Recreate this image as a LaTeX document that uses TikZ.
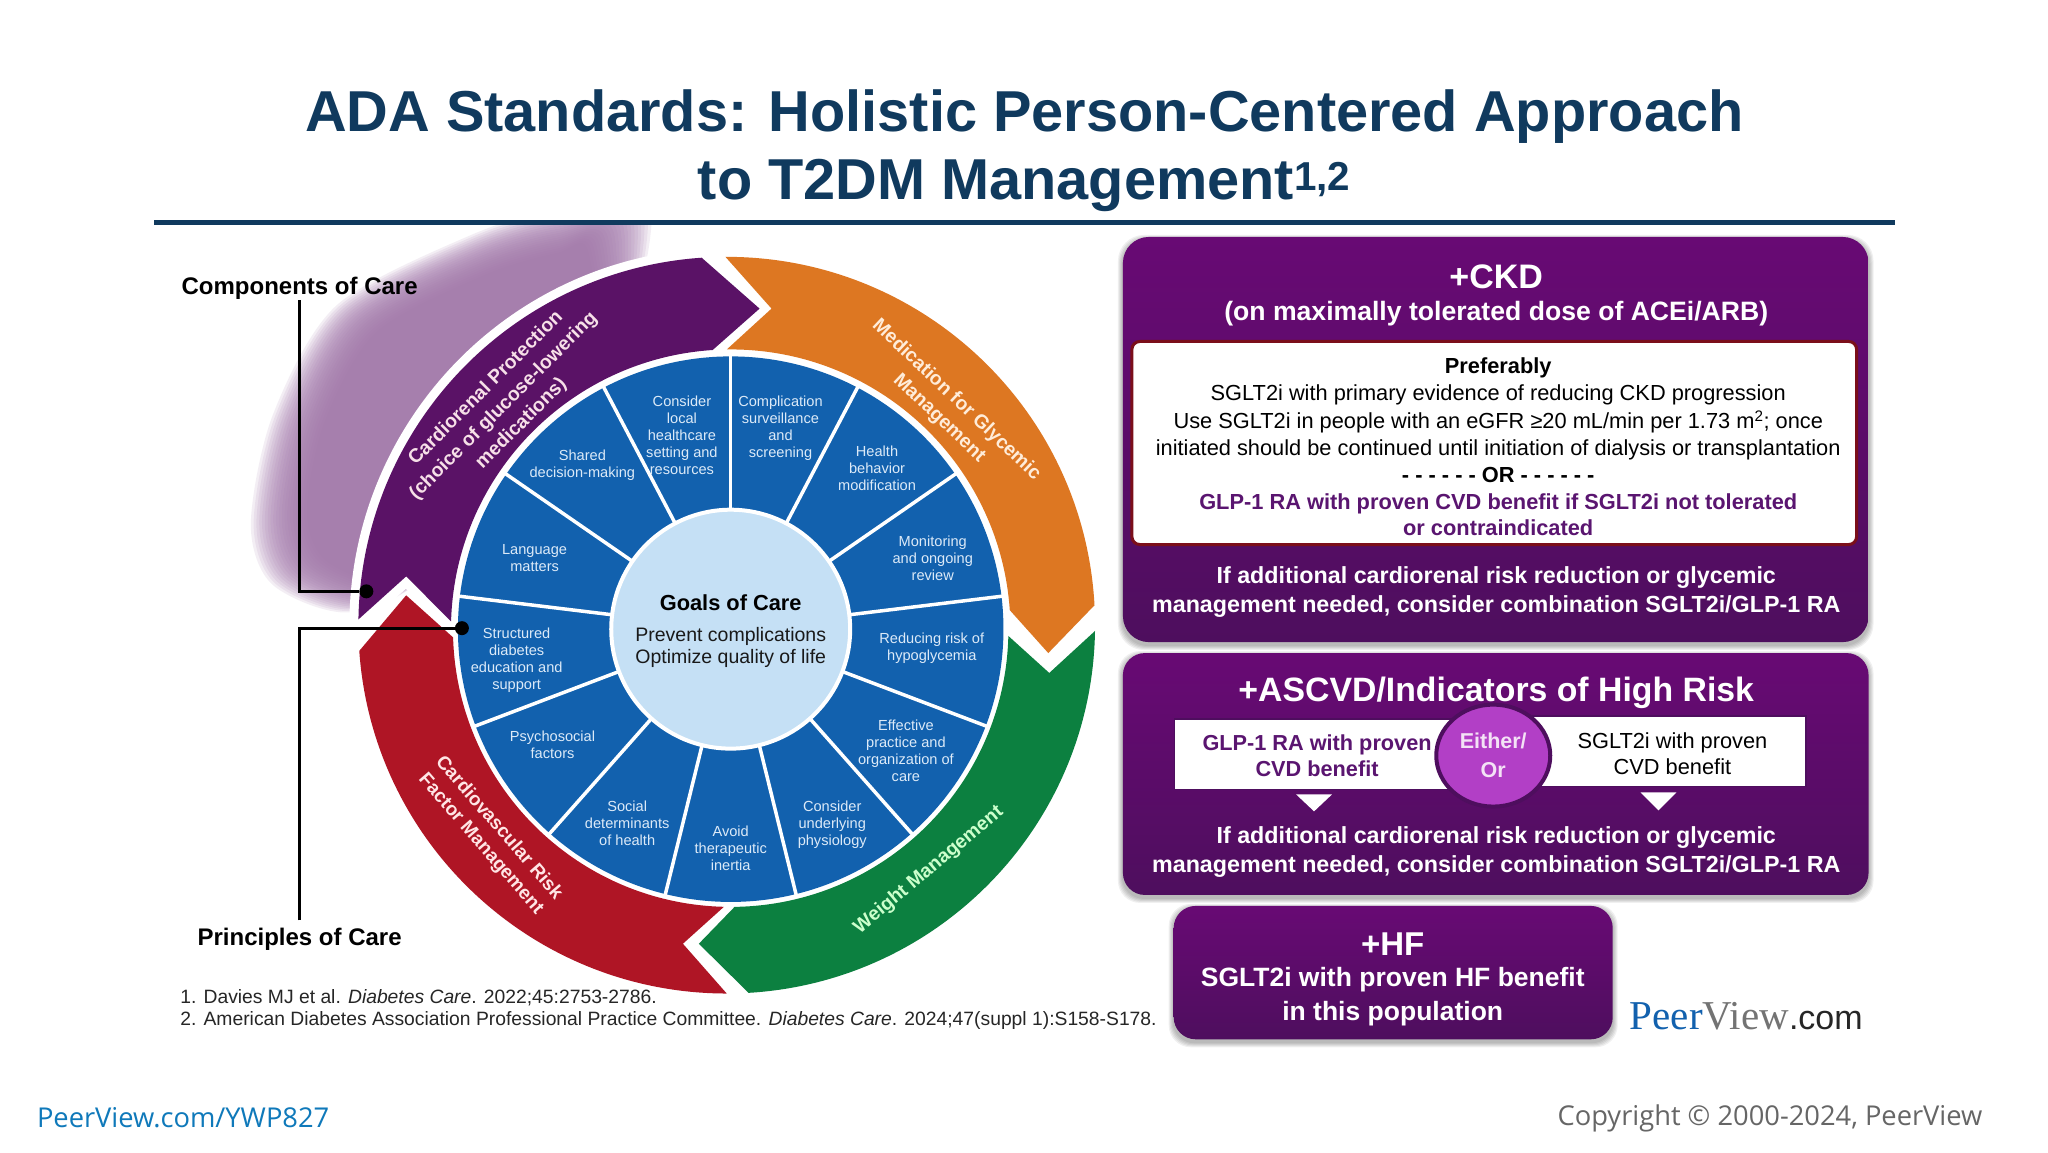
\documentclass[tikz,border=0pt]{standalone}
\usepackage{fontspec}
\setmainfont{Liberation Sans}
\newfontfamily\openf{Open Sans}
\newfontfamily\serifl{Liberation Serif}
\usetikzlibrary{calc,shapes.geometric}
\definecolor{navy}{HTML}{103A5E}
\definecolor{ppl}{HTML}{5A1266}
\definecolor{org}{HTML}{DD7722}
\definecolor{grn}{HTML}{0C8040}
\definecolor{rd}{HTML}{AF1525}
\definecolor{blu}{HTML}{1261AE}
\definecolor{pale}{HTML}{C5E0F5}
\definecolor{glow}{HTML}{A47AAB}
\definecolor{pantop}{HTML}{680A74}
\definecolor{panbot}{HTML}{4E0E5E}
\definecolor{lblu}{HTML}{DCEAF8}
\definecolor{txtp}{HTML}{5A1570}
\definecolor{lilac}{HTML}{B23FC6}
\newcommand{\fs}[2]{\fontsize{#1}{#2}\selectfont}
\newcommand{\softbox}[5]{%
  \foreach \i in {1,2,3,4,5} {\fill[black,opacity=.06,rounded corners=#5pt] (#1-\i,#2+3-\i) rectangle (#3+\i,#4+3+\i);}
  \shade[top color=pantop,bottom color=panbot,rounded corners=#5pt] (#1,#2) rectangle (#3,#4);}
\tikzset{
  seg/.style={font=\fs{14.6}{17}, text=lblu, align=center, inner sep=0pt},
  band/.style={font=\bfseries\fs{19.4}{25}, align=center, inner sep=0pt},
  lab/.style={font=\bfseries\fs{24}{28}, text=black, inner sep=0pt},
  wb/.style={font=\fs{21.8}{25}, text=black, inner sep=0pt},
  wbp/.style={font=\bfseries\fs{21.8}{25}, text=txtp, inner sep=0pt},
  pw/.style={font=\bfseries\fs{23.3}{28}, text=white, inner sep=0pt},
  ref/.style={font=\fs{19.3}{22}, text=black!85, inner sep=0pt, anchor=west},
  leader/.style={line width=3pt, black},
  dotn/.style={circle, fill=black, minimum size=14pt, inner sep=0pt},
}
\begin{document}
\begin{tikzpicture}[x=0.9955pt,y=-0.9955pt]
\useasboundingbox (0,0) rectangle (2057.26,1157.21);
\fill[white] (0,0) rectangle (2057.26,1157.21);
\coordinate (O) at (730,628);
\coordinate (C) at (734,632);
% glow
\begin{scope}
\clip (0,226) rectangle (1000,700);
\foreach \s in {0.90,0.91,...,1.101} {
  \fill[glow,opacity=.12,shift={(560,450)},scale=\s,shift={(-560,-450)}]
    plot[smooth cycle] coordinates {({620+(\s-1)*250},232) (560,232) (480,256) (358,320) (300,420) (280,520) (300,575) (370,600) (450,560) (600,400)};
}
\end{scope}
% title
\node[font=\bfseries\fs{57.7}{60},text=navy,inner sep=0pt] (t1) at (1029,117) {ADA Standards: Holistic Person-Centered Approach};
\node[font=\bfseries\fs{57.7}{60},text=navy,inner sep=0pt] (t2) at (1029,186) {to T2DM Management\textsuperscript{1,2}};
\fill[navy] (155,221) rectangle (1904,226);
% outer ring
\fill[ppl,preaction={draw=white,line width=18pt}] ($(O)+(180.9:370)$) arc[start angle=180.9,end angle=266.1,radius=370] -- (763,310) -- ($(C)+(266.3:281)$) arc[start angle=266.3,end angle=181.6,radius=281] -- (408,579) -- cycle;
\fill[org] ($(O)+(-90.2:370)$) arc[start angle=-90.2,end angle=-3.1,radius=370] -- (1053,656) -- ($(C)+(-3.9:281)$) arc[start angle=-3.9,end angle=-90.8,radius=281] -- (775,310) -- cycle;
\fill[grn] ($(O)+(0.9:370)$) arc[start angle=0.9,end angle=86.6,radius=370] -- (702,948) -- ($(C)+(89.2:279)$) arc[start angle=89.2,end angle=1.4,radius=279] -- (1054,676) -- cycle;
\fill[rd] ($(O)+(90:370)$) arc[start angle=90,end angle=176,radius=370] -- (408,598) -- ($(C)+(178.3:279)$) arc[start angle=178.3,end angle=91.4,radius=279] -- (686,948) -- cycle;
% blue ring
\fill[blu] (C) circle[radius=274];
\foreach \k in {0,...,12} {
  \pgfmathsetmacro{\a}{-90+\k*360/13}
  \draw[white,line width=3.5pt] ($(C)+(\a:118)$) -- ($(C)+(\a:276)$);
}
\fill[pale,draw=white,line width=4pt] (C) circle[radius=120];
% goals
\node[font=\bfseries\fs{21.8}{25},text=black,inner sep=0pt] (g1) at (734,605) {Goals of Care};
\node[font=\fs{19.5}{22},text=black!90,inner sep=0pt] (g2) at (734,639) {Prevent complications};
\node[font=\fs{19.5}{22},text=black!90,inner sep=0pt] (g3) at (734,661) {Optimize quality of life};
% segments
\node[seg] (s1) at (685,437) {Consider\\local\\healthcare\\setting and\\resources};
\node[seg] (s2) at (784,430) {Complication\\surveillance\\and\\screening};
\node[seg] (s3) at (881,470) {Health\\behavior\\modification};
\node[seg] (s4) at (937,561) {Monitoring\\and ongoing\\review};
\node[seg] (s5) at (936,651) {Reducing risk of\\hypoglycemia};
\node[seg] (s6) at (910,754) {Effective\\practice and\\organization of\\care};
\node[seg] (s7) at (836,828) {Consider\\underlying\\physiology};
\node[seg] (s8) at (734,852) {Avoid\\therapeutic\\inertia};
\node[seg] (s9) at (630,827) {Social\\determinants\\of health};
\node[seg] (s10) at (555,748) {Psychosocial\\factors};
\node[seg] (s11) at (519,663) {Structured\\diabetes\\education and\\support};
\node[seg] (s12) at (537,561) {Language\\matters};
\node[seg] (s13) at (585,467) {Shared\\decision-making};
% band labels
\node[band,text=purple!12,rotate=45] (b1) at (506,408) {Cardiorenal Protection\\(choice of glucose-lowering\\medications)};
\node[band,text=orange!15,rotate=-43.5] (b2) at (952,411) {Medication for Glycemic\\Management};
\node[band,text=red!10,rotate=-49,font=\bfseries\fs{19}{24}] (b3) at (492,840) {Cardiovascular Risk\\Factor Management};
\node[band,text=green!20!white,rotate=40] (b4) at (933,874) {Weight Management};
% leaders
\node[lab] (comp) at (301,290) {Components of Care};
\node[lab] (prin) at (301,944) {Principles of Care};
\node[dotn] (d1) at (368,594) {};
\node[dotn] (d2) at (464,631) {};
\draw[leader] (comp.south) |- (d1);
\draw[leader] (prin.north) ++(0,-8) coordinate (pv) |- (d2);
% refs
\node[ref] (r1) at (181,1002) {1. Davies MJ et al. \textit{Diabetes Care}. 2022;45:2753-2786.};
\node[ref] (r2) at (181,1025) {2. American Diabetes Association Professional Practice Committee. \textit{Diabetes Care}. 2024;47(suppl 1):S158-S178.};
% CKD panel
\softbox{1128}{238}{1877}{645}{26}
\node[font=\bfseries\fs{34}{36},text=white,inner sep=0pt] (c1) at (1503,278) {+CKD};
\node[font=\bfseries\fs{26.6}{30},text=white,inner sep=0pt] (c2) at (1503,315) {(on maximally tolerated dose of ACEi/ARB)};
\draw[fill=white,draw=rd!70!black,line width=3pt,rounded corners=8pt] (1137,343) rectangle (1865,547);
\node[font=\bfseries\fs{21.8}{25},text=black,inner sep=0pt] (w1) at (1505,370) {Preferably};
\node[wb] (w2) at (1505,397) {SGLT2i with primary evidence of reducing CKD progression};
\node[wb] (w3) at (1505,424) {Use SGLT2i in people with an eGFR ≥20 mL/min per 1.73 m\textsuperscript{2}; once};
\node[wb] (w4) at (1505,452) {initiated should be continued until initiation of dialysis or transplantation};
\node[font=\bfseries\fs{21.8}{25},text=black,inner sep=0pt] (w5) at (1505,477) {- - - - - - OR - - - - - -};
\node[wbp] (w6) at (1505,506) {GLP-1 RA with proven CVD benefit if SGLT2i not tolerated};
\node[wbp] (w7) at (1505,530) {or contraindicated};
\node[pw] (c3) at (1503,580) {If additional cardiorenal risk reduction or glycemic};
\node[pw] (c4) at (1503,609) {management needed, consider combination SGLT2i/GLP-1 RA};
% ASCVD panel
\softbox{1128}{656}{1877}{899}{22}
\node[font=\bfseries\fs{33.8}{36},text=white,inner sep=0pt] (a1) at (1503,696) {+ASCVD/Indicators of High Risk};
\draw[fill=white,draw=panbot,line width=1.5pt] (1180,722) rectangle (1460,793);
\draw[fill=white,draw=panbot,line width=1.5pt] (1540,719) rectangle (1814,790);
\node[wbp,font=\bfseries\fs{21.7}{26},align=center] (a2) at (1323,759) {GLP-1 RA with proven\\CVD benefit};
\node[wb,font=\fs{21.8}{26},align=center] (a3) at (1680,757) {SGLT2i with proven\\CVD benefit};
\node[ellipse,fill=lilac,draw=panbot,line width=4pt,minimum width=114pt,minimum height=102pt,inner sep=0pt,align=center,text=white!85!lilac,font=\bfseries\fs{21.5}{29}] (eo) at (1500,759) {Either/\\Or};
\fill[white] (1302,798) -- (1338,798) -- (1320,815) -- cycle;
\fill[white] (1648,796) -- (1684,796) -- (1666,814) -- cycle;
\node[pw] (a4) at (1503,841) {If additional cardiorenal risk reduction or glycemic};
\node[pw] (a5) at (1503,870) {management needed, consider combination SGLT2i/GLP-1 RA};
% HF panel
\softbox{1179}{910}{1620}{1044}{22}
\node[font=\bfseries\fs{33}{36},text=white,inner sep=0pt] (h1) at (1399,948) {+HF};
\node[pw,font=\bfseries\fs{26.5}{30}] (h2) at (1399,984) {SGLT2i with proven HF benefit};
\node[pw,font=\bfseries\fs{26.5}{30}] (h3) at (1399,1018) {in this population};
% logo
\node[inner sep=0pt,anchor=west] (logo) at (1637,1021) {\serifl\fs{41}{44}\textcolor{blu}{Peer}\textcolor{black!55}{View}\textrm{\fs{34}{40}\textcolor{black!85}{.com}}};
% footer
\node[font=\openf\fs{27.3}{30},text=blu!85!cyan,inner sep=0pt,anchor=west] (f1) at (37,1123) {PeerView.com/YWP827};
\node[font=\openf\fs{27.3}{30},text=black!60,inner sep=0pt,anchor=east] (f2) at (1991.5,1123) {Copyright © 2000-2024, PeerView};
\end{tikzpicture}
\end{document}
